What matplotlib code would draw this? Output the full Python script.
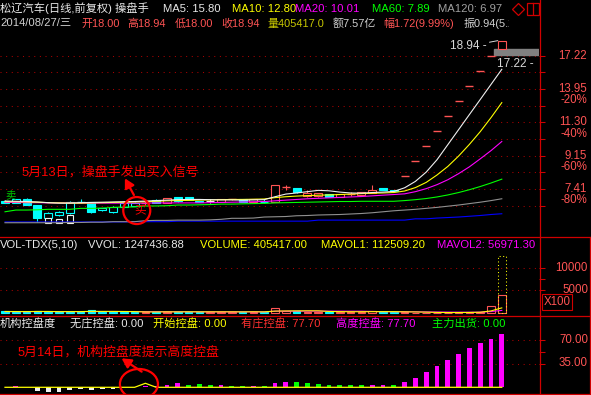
import numpy as np
import matplotlib
matplotlib.use("Agg")
import matplotlib.pyplot as plt
from matplotlib.lines import Line2D
from matplotlib.patches import Ellipse
from matplotlib.ticker import NullLocator
import matplotlib.transforms as mtransforms

plt.rcParams["font.family"] = ["Liberation Sans", "Noto Sans CJK SC"]
plt.rcParams["lines.scale_dashes"] = False

# ---- daily candles (前复权) ----
opens = [6.87, 6.96, 6.96, 6.70, 6.37, 6.41, 6.83, 6.85, 6.83, 6.57,
         6.62, 6.79, 6.79, 6.77, 6.92, 6.79, 7.05, 7.05, 6.87, 6.87,
         6.83, 6.92, 6.96, 6.83, 6.87, 6.83, 7.49, 7.46, 7.09, 7.09,
         7.18, 7.05, 7.16, 7.14, 7.23, 7.46, 7.37,
         8.03, 8.84, 9.72, 10.69, 11.76, 12.94, 14.23, 15.65, 17.22, 18.00]
highs = [6.90, 6.98, 7.00, 6.72, 6.40, 6.44, 6.87, 6.98, 6.85, 6.59,
         6.64, 6.81, 6.81, 6.96, 6.96, 7.02, 7.07, 7.07, 6.89, 6.98,
         6.98, 6.98, 6.98, 6.98, 6.94, 7.62, 7.60, 7.48, 7.37, 7.25,
         7.20, 7.20, 7.27, 7.29, 7.60, 7.48, 7.39,
         8.03, 8.84, 9.72, 10.69, 11.76, 12.94, 14.23, 15.65, 17.22, 18.94]
lows = [6.78, 6.77, 6.68, 6.02, 6.14, 6.27, 6.35, 6.78, 6.39, 6.47,
        6.39, 6.60, 6.64, 6.70, 6.77, 6.77, 6.85, 6.90, 6.81, 6.80,
        6.81, 6.90, 6.81, 6.81, 6.79, 6.81, 7.37, 7.25, 7.07, 7.07,
        7.03, 7.03, 7.09, 7.12, 7.21, 7.35, 7.28,
        8.03, 8.84, 9.72, 10.69, 11.76, 12.94, 14.23, 15.65, 17.22, 18.00]
closes = [6.80, 6.79, 6.70, 6.17, 6.17, 6.29, 6.37, 6.83, 6.41, 6.49,
          6.41, 6.62, 6.66, 6.79, 6.79, 7.00, 6.87, 6.92, 6.83, 6.87,
          6.96, 6.94, 6.83, 6.96, 6.85, 7.60, 7.51, 7.27, 7.23, 7.23,
          7.05, 7.18, 7.18, 7.27, 7.37, 7.37, 7.30,
          8.03, 8.84, 9.72, 10.69, 11.76, 12.94, 14.23, 15.65, 17.22, 18.94]
# c = cyan filled, h = cyan hollow, r = red hollow, w = white
styles = "chcchhhcch" + "hhhrcrcccw" + "rrcrcrrcrr" + "crrrrcc" + "rrrrrrrrrr"
# white hollow sticks of the 操盘手 overlay
stick_idx = [4, 5, 6]
stick_top = [6.17, 6.15, 6.29]
stick_bot = [5.98, 5.98, 5.98]

ma5 = [6.87, 6.86, 6.85, 6.83, 6.80, 6.78, 6.78, 6.80, 6.81, 6.82,
       6.83, 6.84, 6.85, 6.87, 6.89, 6.91, 6.93, 6.94, 6.94, 6.93,
       6.92, 6.92, 6.91, 6.92, 6.93, 7.06, 7.18, 7.23, 7.29, 7.35,
       7.33, 7.27, 7.23, 7.22, 7.25, 7.27, 7.30,
       7.47, 7.78, 8.25, 8.92, 9.81, 10.79, 11.87, 13.05, 14.36, 15.80]
ma10 = [6.84, 6.84, 6.83, 6.82, 6.80, 6.79, 6.78, 6.78, 6.79, 6.80,
        6.81, 6.82, 6.83, 6.84, 6.86, 6.88, 6.89, 6.90, 6.91, 6.92,
        6.93, 6.94, 6.94, 6.95, 6.96, 7.02, 7.06, 7.09, 7.11, 7.13,
        7.14, 7.16, 7.18, 7.20, 7.22, 7.23, 7.25,
        7.32, 7.48, 7.73, 8.10, 8.55, 9.13, 9.83, 10.65, 11.64, 12.80]
ma20 = [6.81, 6.81, 6.80, 6.80, 6.79, 6.79, 6.79, 6.78, 6.78, 6.78,
        6.78, 6.78, 6.78, 6.78, 6.79, 6.79, 6.79, 6.79, 6.79, 6.80,
        6.81, 6.82, 6.83, 6.84, 6.85, 6.88, 6.91, 6.94, 6.97, 6.99,
        7.01, 7.03, 7.05, 7.07, 7.10, 7.13, 7.16,
        7.19, 7.29, 7.43, 7.62, 7.86, 8.17, 8.53, 8.97, 9.45, 10.01]
ma60 = [6.42, 6.49, 6.49, 6.50, 6.52, 6.52, 6.52, 6.56, 6.56, 6.57,
        6.60, 6.61, 6.62, 6.66, 6.66, 6.67, 6.70, 6.70, 6.71, 6.72,
        6.74, 6.74, 6.75, 6.76, 6.77, 6.79, 6.80, 6.81, 6.82, 6.83,
        6.84, 6.85, 6.85, 6.86, 6.86, 6.86, 6.86,
        6.89, 6.93, 6.98, 7.05, 7.14, 7.25, 7.38, 7.53, 7.70, 7.89]
ma120 = [5.99, 5.99, 5.99, 5.99, 5.99, 5.99, 6.00, 6.00, 6.01, 6.01,
         6.03, 6.03, 6.03, 6.07, 6.08, 6.08, 6.09, 6.09, 6.09, 6.10,
         6.12, 6.16, 6.16, 6.17, 6.21, 6.22, 6.23, 6.26, 6.27, 6.29,
         6.30, 6.31, 6.33, 6.35, 6.38, 6.42, 6.46,
         6.49, 6.52, 6.56, 6.60, 6.65, 6.70, 6.76, 6.82, 6.89, 6.97]
ma250 = [6.02, 6.02, 6.02, 6.02, 6.02, 6.02, 6.02, 6.02, 6.02, 6.02,
         6.02, 6.02, 6.03, 6.03, 6.03, 6.03, 6.05, 6.05, 6.05, 6.05,
         6.05, 6.05, 6.05, 6.05, 6.05, 6.05, 6.05, 6.05, 6.05, 6.09,
         6.09, 6.09, 6.09, 6.09, 6.09, 6.09, 6.09,
         6.09, 6.14, 6.14, 6.17, 6.19, 6.21, 6.24, 6.27, 6.31, 6.34]
price_ticks = [17.22, 13.95, 11.30, 9.15, 7.41]
pct_labels = ["", "-20%", "-40%", "-60%", "-80%"]

# ---- volume (X100) ----
vol = [440, 260, 300, 380, 320, 260, 300, 280, 650, 240,
       260, 220, 200, 260, 240, 300, 260, 280, 220, 250,
       300, 260, 240, 280, 220, 1030, 420, 380, 300, 280,
       300, 260, 240, 300, 380, 320, 260,
       120, 90, 80, 90, 110, 140, 200, 330, 1540, 4054]
mavol1 = [330, 320, 310, 340, 340, 300, 310, 310, 360, 350,
          350, 330, 310, 240, 240, 260, 250, 270, 260, 260,
          260, 260, 250, 270, 250, 420, 450, 470, 480, 480,
          340, 300, 280, 280, 300, 300, 300,
          260, 230, 190, 130, 100, 100, 120, 170, 460, 1125]
mavol2 = [310, 310, 305, 310, 315, 320, 315, 310, 320, 325,
          330, 325, 320, 300, 295, 290, 280, 270, 265, 260,
          260, 265, 260, 255, 255, 390, 400, 410, 420, 420,
          420, 410, 400, 400, 340, 300, 290,
          280, 260, 240, 220, 200, 180, 170, 190, 320, 570]
vvol_last = 12474.37
vol_ticks = [10000, 5000]

# ---- 机构控盘度 ----
ctrl = [0.7, 2, 0, -5.4, -7.4, -7.4, -4, -3, -4, -2.5,
        -2.5, 0, 0, 2, 2.5, 3.5, 6, 3.5, 4.5, 3.5,
        3.5, 2, 2, 2, 2, 7, 8.4, 7.9, 6.4, 4.9,
        3.5, 3.5, 3.5, 3.5, 3.5, 3.5, 3.5, 7.9, 13.8, 22.7,
        31.6, 40.5, 49.4, 58.3, 65.7, 71.6, 77.7]
ctrl_kind = "gmm" + "wwwwwwww" + "mmmmmm" + "ggg" + "m" + "gg" + "m" + "g" + "mm" + "ggggggg" + "mm" + "g" + "mmmmmmmmmm"
start_line = [0] * 13 + [5.9] + [0] * 33
ctrl_ticks = [70, 35]

BG = "black"
RED = "#d00000"
GRID = "#a80000"
AXTXT = "#ff5454"
UP = "#ff5454"
CYAN = "#00ffff"
WHITE = "#f0f0f0"
YEL = "#ffff00"
MAG = "#ff00ff"
GRN = "#00ff00"
GRAY = "#909090"
BLUE = "#0000ff"

W, H = 591, 395
fig = plt.figure(figsize=(W / 100, H / 100), dpi=100, facecolor=BG)


def box(x0, y0, x1, y1):
    return [x0 / W, 1 - y1 / H, (x1 - x0) / W, (y1 - y0) / H]


def ftxt(xp, yp, s, color, size=8.1, **kw):
    return fig.text(xp / W, 1 - yp / H, s, color=color, fontsize=size,
                    va="center", ha="left", **kw)


def row(x0, x1, yp, parts, size=8.1):
    # first piece starts at x0, last piece starts at x1 (pixels), even gaps between
    rend = fig.canvas.get_renderer()
    ts = [ftxt(0, yp, s, c, size) for s, c in parts]
    ws = [t.get_window_extent(rend).width for t in ts]
    gap = (x1 - x0 - sum(ws[:-1])) / max(len(ts) - 1, 1)
    xp = x0
    for t, w in zip(ts, ws):
        t.set_x(xp / W)
        xp += w + gap
    return ts


x = np.arange(len(closes))
XL = (-5 / 10.8, (539 - 5) / 10.8)
dots = (0, (0.75, 3.3))

ax = fig.add_axes(box(0, 30, 539, 236))
axv = fig.add_axes(box(0, 237, 539, 316))
axi = fig.add_axes(box(0, 316, 539, 395))
for a in (ax, axv, axi):
    a.set_facecolor("none")
    for s in a.spines.values():
        s.set_visible(False)
    a.set_xlim(*XL)
    a.set_xticks([])
    a.yaxis.tick_right()
    a.tick_params(axis="y", colors=RED, length=4.3, width=0.75, labelright=False)

# ---- price panel ----
k = 0.006322
ax.set_yscale("log")
ax.set_ylim(17.22 * np.exp(-(236 - 55.7) * k), 17.22 * np.exp((55.7 - 30) * k))
step = np.sqrt(price_ticks[0] / price_ticks[1])
grid_lv = []
for p in price_ticks:
    grid_lv += [p, p / step]
ax.set_yticks(grid_lv)
ax.yaxis.set_minor_locator(NullLocator())
for g in grid_lv:
    ax.axhline(g, color=GRID, lw=0.75, ls=dots, zorder=0)

for i in x:
    o, h, l, c, s = opens[i], highs[i], lows[i], closes[i], styles[i]
    col = {"c": CYAN, "h": CYAN, "r": UP, "w": WHITE}[s]
    ax.vlines(i, l, h, color=col, lw=0.8, zorder=2)
    lo, hi = min(o, c), max(o, c)
    if hi - lo < 0.03:
        ax.hlines(c, i - 0.37, i + 0.37, color=col, lw=1.0, zorder=3)
    else:
        ax.bar(i, hi - lo, bottom=lo, width=0.74, facecolor=col if s == "c" else BG,
               edgecolor=col, lw=0.8, zorder=3)
ax.bar(stick_idx, np.subtract(stick_top, stick_bot), bottom=stick_bot, width=0.6,
       facecolor=BG, edgecolor=WHITE, lw=0.8, zorder=3)

for vals, col in [(ma250, BLUE), (ma120, GRAY), (ma60, GRN), (ma20, MAG), (ma10, YEL), (ma5, WHITE)]:
    ax.plot(x, vals, color=col, lw=0.8, zorder=4)

ax.axhspan(17.33, 17.93, xmin=494 / 539, xmax=1, color="#808080", zorder=1)
ax.annotate("18.94 -", xy=(46 - 0.37, highs[-1]), xytext=(-8, -4), textcoords="offset points",
            ha="right", va="center", color="#d8d8d8", fontsize=8.5,
            arrowprops=dict(arrowstyle="-", color="#d8d8d8", lw=0.7, shrinkA=0, shrinkB=0))
ax.annotate("17.22 -", xy=(45, closes[45]), xytext=(4.3, -6), textcoords="offset points",
            ha="left", va="center", color="#d8d8d8", fontsize=8.5)

ytr = ax.get_yaxis_transform()
for p, pc in zip(price_ticks, pct_labels):
    ax.text(587 / 539, p, f"{p:.2f}", transform=ytr, ha="right", va="center",
            color=AXTXT, fontsize=8.3, clip_on=False)
    if pc:
        ax.annotate(pc, xy=(587 / 539, p), xycoords=ytr, xytext=(0, -8.1),
                    textcoords="offset points", ha="right", va="center",
                    color=AXTXT, fontsize=8.3, annotation_clip=False)

# buy signal annotation
ax.text(9.8, 8.23, "5月13日，操盘手发出买入信号", color="#ff0000", fontsize=9.4,
        ha="center", va="center", zorder=6)
ax.annotate("", xy=(11.1, 7.93), xytext=(6.5, -12), textcoords="offset points",
            arrowprops=dict(arrowstyle="-|>,head_length=0.55,head_width=0.3",
                            color="#ff0000", lw=1.6, shrinkA=0, shrinkB=0), zorder=6)
tr = fig.dpi_scale_trans + mtransforms.ScaledTranslation(12.2, 6.47, ax.transData)
ax.add_patch(Ellipse((0, 0), 0.27, 0.27, transform=tr, fill=False, edgecolor="#ff0000",
                     lw=1.6, zorder=6))
ax.text(12.5, 6.49, "买", color="#ff0000", fontsize=8.5, ha="center", va="center", zorder=6)
ax.text(0.5, 7.14, "卖", color="#00c000", fontsize=7.5, ha="center", va="center", zorder=6)

# ---- volume panel ----
axv.set_ylim(-(316 - 313) / 4.54e-3, (313 - 237) / 4.54e-3)
axv.set_yticks([10000, 7500, 5000])
for g in vol_ticks:
    axv.axhline(g, color=GRID, lw=0.75, ls=dots, zorder=0)
up = [c >= o for o, c in zip(opens, closes)]
axv.bar(x, vol, width=0.7, facecolor=[BG if u else CYAN for u in up],
        edgecolor=[UP if u else CYAN for u in up], lw=0.8, zorder=2)
axv.bar(x[-1], vvol_last, width=0.7, fill=False, edgecolor=YEL, lw=0.75,
        linestyle=(0, (0.75, 1.8)), zorder=2)
axv.plot(x, mavol2, color=MAG, lw=0.8, zorder=3)
axv.plot(x, mavol1, color=YEL, lw=0.8, zorder=3)
vtr = axv.get_yaxis_transform()
for g in vol_ticks:
    axv.text(588 / 539, g, f"{g}", transform=vtr, ha="right", va="center",
             color=AXTXT, fontsize=8.3, clip_on=False)

# ---- 机构控盘度 panel ----
axi.set_ylim(-(395 - 387.3) / 0.68, (387.3 - 316) / 0.68)
axi.set_yticks([70, 52.5, 35])
for g in ctrl_ticks:
    axi.axhline(g, color=GRID, lw=0.75, ls=dots, zorder=0)
kc = {"g": GRN, "m": MAG, "w": WHITE}
axi.bar(x, ctrl, width=0.46, color=[kc[q] for q in ctrl_kind], zorder=2)
axi.plot(x, start_line, color=YEL, lw=0.9, zorder=3)
itr = axi.get_yaxis_transform()
for g in ctrl_ticks:
    axi.text(588 / 539, g, f"{g:.2f}", transform=itr, ha="right", va="center",
             color=AXTXT, fontsize=8.3, clip_on=False)
axi.text(10.5, 51.9, "5月14日，机构控盘度提示高度控盘", color="#ff0000", fontsize=9.3,
         ha="center", va="center", zorder=6)
axi.annotate("", xy=(10.8, 42.6), xytext=(14.4, -9.6), textcoords="offset points",
             arrowprops=dict(arrowstyle="-|>,head_length=0.55,head_width=0.3",
                             color="#ff0000", lw=1.6, shrinkA=0, shrinkB=0), zorder=6)
tr2 = fig.dpi_scale_trans + mtransforms.ScaledTranslation(12.4, 4.9, axi.transData)
axi.add_patch(Ellipse((0, 0), 0.38, 0.30, transform=tr2, fill=False, edgecolor="#ff0000",
                      lw=1.6, zorder=6))

# ---- frame lines ----
for xs, ys in [([539.5, 539.5], [0, 395]), ([0, 591], [236.5, 236.5]),
               ([0, 591], [316, 316]), ([0, 591], [393.5, 393.5]),
               ([590, 590], [236.5, 395])]:
    fig.add_artist(Line2D([v / W for v in xs], [1 - v / H for v in ys], color=RED, lw=0.9))

# ---- header texts ----
ftxt(0, 8.5, "松辽汽车(日线,前复权) 操盘手", "#e8e8e8")
ftxt(163, 8.5, "MA5: 15.80", "#e8e8e8")
ftxt(232, 8.5, "MA10: 12.80", YEL)
ftxt(295, 8.5, "MA20: 10.01", MAG)
ftxt(372, 8.5, "MA60: 7.89", GRN)
ftxt(438, 8.5, "MA120: 6.97", "#a0a0a0")
fig.add_artist(Line2D([517.5 / W], [1 - 8.5 / H], marker="D", ms=6, mfc="none", mec=RED, mew=0.9))
fig.add_artist(Line2D([532.5 / W], [1 - 8.5 / H], marker="s", ms=8, mfc="none", mec=RED, mew=0.9))
fig.add_artist(Line2D([532.5 / W] * 2, [1 - 3 / H, 1 - 14 / H], color=RED, lw=0.9))

ftxt(0, 23.5, "2014/08/27/三", "#d0d0d0")
row(81, 333, 23.5, [("开18.00", UP), ("高18.94", UP), ("低18.00", UP), ("收18.94", UP),
                    ("量405417.0", "#c8c800"), ("额7.57亿", "#d0d0d0")], size=7.9)
ftxt(383, 23.5, "幅1.72(9.99%)", UP, size=7.9)
t = ftxt(464, 23.5, "振0.94(5.22%)", "#d0d0d0", size=7.9)
t.set_clip_box(mtransforms.Bbox.from_extents(0, 0, 509, H))

ftxt(0, 244.5, "VOL-TDX(5,10)", "#e8e8e8")
ftxt(88, 244.5, "VVOL: 1247436.88", "#e8e8e8")
ftxt(200, 244.5, "VOLUME: 405417.00", YEL)
ftxt(321, 244.5, "MAVOL1: 112509.20", YEL)
t = ftxt(437, 244.5, "MAVOL2: 56971.30", MAG)
t.set_clip_box(mtransforms.Bbox.from_extents(0, 0, 539, H))
fig.text(557 / W, 1 - 302 / H, "X100", color=AXTXT, fontsize=8.3, ha="center", va="center",
         bbox=dict(boxstyle="square,pad=0.15", fc=BG, ec=RED, lw=0.8))

ftxt(0, 324, "机构控盘度", "#e8e8e8")
ftxt(70, 324, "无庄控盘: 0.00", "#e8e8e8")
ftxt(153, 324, "开始控盘: 0.00", YEL)
ftxt(241, 324, "有庄控盘: 77.70", "#ff3030")
ftxt(336, 324, "高度控盘: 77.70", MAG)
ftxt(432, 324, "主力出货: 0.00", GRN)

fig.savefig("out.png", dpi=100, facecolor=BG)
